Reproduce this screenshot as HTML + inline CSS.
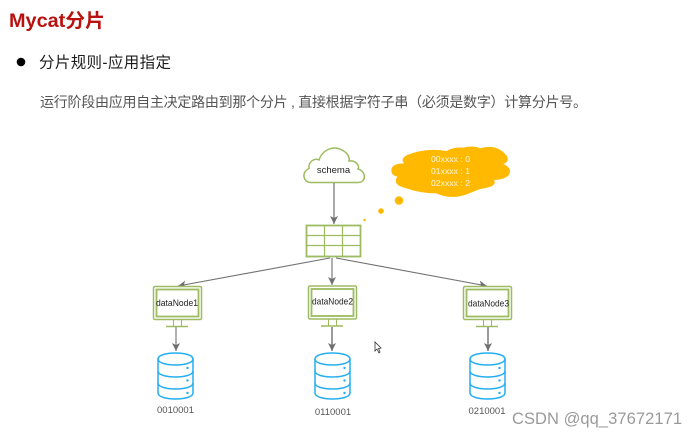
<!DOCTYPE html>
<html lang="zh">
<head>
<meta charset="utf-8">
<title>Mycat分片</title>
<style>
html,body{margin:0;padding:0;background:#fff;width:697px;height:436px;overflow:hidden}
svg{display:block;filter:blur(.35px)}
text{font-family:"Liberation Sans","Noto Sans CJK SC",sans-serif}
</style>
</head>
<body>
<svg width="697" height="436" viewBox="0 0 697 436" xmlns="http://www.w3.org/2000/svg">
<defs>
<marker id="a" markerWidth="9" markerHeight="8" refX="8" refY="4" orient="auto" markerUnits="userSpaceOnUse"><path d="M0 0L8 4L0 8L2 4Z" fill="#707070"/></marker>
<g id="db" fill="#fff" stroke="#26aef0" stroke-width="1.500">
<path d="M0 6C0 -2 35 -2 35 6V40C35 48 0 48 0 40Z"/>
<path d="M0 6C0 14 35 14 35 6M0 18C0 26 35 26 35 18M0 30C0 38 35 38 35 30" fill="none"/>
<circle cx="29.500" cy="15" r="1.200" fill="#26aef0" stroke="none"/>
<circle cx="29.500" cy="27.500" r="1.200" fill="#26aef0" stroke="none"/>
<circle cx="29.500" cy="40" r="1.200" fill="#26aef0" stroke="none"/>
</g>
<g id="mon" fill="none" stroke="#9dbb61">
<rect x="0.500" y="0.500" width="48" height="33" rx="1.500" stroke-width="1.500" fill="#fff"/>
<rect x="3.500" y="3.500" width="42" height="27" stroke-width="1.800" fill="#fff"/>
<path d="M20.500 34V40.500M28.500 34V40.500" stroke-width="1.100"/>
<path d="M13 40.500H35" stroke-width="1.400"/>
</g>
</defs>

<text x="9" y="27" font-size="19" font-weight="700" fill="#b8120f" textLength="96" lengthAdjust="spacingAndGlyphs">Mycat分片</text>
<circle cx="21" cy="62" r="4.300" fill="#000"/>
<text x="39" y="67.500" font-size="15.500" fill="#1c1c1c" textLength="132">分片规则-应用指定</text>
<text x="40" y="107" font-size="14" fill="#555" textLength="547">运行阶段由应用自主决定路由到那个分片 , 直接根据字符子串（必须是数字）计算分片号。</text>

<!-- schema cloud -->
<path d="M311 182.500C303 182.500 301 172 309 168.500C308 161 315 158 319 160C322 150 333 145 342 150C348 153 350 158 349 161C356 160 360 166 358 169C366 171 367 182.500 358 182.500Z" fill="#fff" stroke="#9dbb61" stroke-width="1.500"/>
<text x="333.500" y="173" font-size="9.500" fill="#222" text-anchor="middle">schema</text>
<line x1="334" y1="183" x2="334" y2="224" stroke="#707070" stroke-width="1.200" marker-end="url(#a)"/>

<!-- yellow thought cloud -->
<g fill="#ffb900">
<path transform="translate(290 135) scale(.33333)" d="M305 100Q310 85 342 85Q325 65 375 52Q420 40 470 48Q490 35 520 38Q550 30 570 40Q620 25 650 62Q660 80 640 87Q670 100 655 122Q640 135 612 135Q625 155 570 162Q550 170 530 178Q480 195 440 175Q390 175 350 160Q305 150 322 125Q300 120 305 100Z"/>
<circle cx="399" cy="200.500" r="4.300"/>
<circle cx="381" cy="211" r="2.800"/>
<circle cx="364.500" cy="220" r="1.200"/>
</g>
<g font-size="8.500" fill="#fff" opacity=".9">
<text x="431" y="162" textLength="39">00xxxx : 0</text>
<text x="431" y="174" textLength="39">01xxxx : 1</text>
<text x="431" y="186" textLength="39">02xxxx : 2</text>
</g>

<!-- table -->
<g fill="none" stroke="#9dbb61">
<rect x="306.500" y="225.500" width="54" height="31" stroke-width="1.800" fill="#fff"/>
<path d="M306 235.500H361M306 245.500H361M324.500 225V257M342.500 225V257" stroke-width="1.200"/>
</g>

<!-- connectors -->
<g stroke="#707070" stroke-width="1.100" fill="none">
<line x1="330" y1="258" x2="178" y2="286" marker-end="url(#a)"/>
<line x1="332" y1="258" x2="332" y2="285" marker-end="url(#a)"/>
<line x1="336" y1="258" x2="487" y2="286" marker-end="url(#a)"/>
<line x1="176" y1="327" x2="176" y2="351" marker-end="url(#a)"/>
<line x1="332" y1="327" x2="332" y2="351" stroke-width="1.400" marker-end="url(#a)"/>
<line x1="488" y1="327" x2="488" y2="351" stroke-width="1.400" marker-end="url(#a)"/>
</g>

<!-- monitors -->
<use href="#mon" x="153" y="286"/>
<use href="#mon" x="308" y="285.500"/>
<use href="#mon" x="463" y="286"/>
<g font-size="9.500" fill="#222">
<text x="156" y="306" textLength="42" lengthAdjust="spacingAndGlyphs">dataNode1</text>
<text x="312" y="304.500" textLength="41" lengthAdjust="spacingAndGlyphs">dataNode2</text>
<text x="468" y="306.500" textLength="41" lengthAdjust="spacingAndGlyphs">dataNode3</text>
</g>

<!-- databases -->
<use href="#db" x="158" y="353"/>
<use href="#db" x="315" y="353"/>
<use href="#db" x="470" y="353"/>
<g font-size="9.500" fill="#555" text-anchor="middle">
<text x="175.500" y="413">0010001</text>
<text x="333" y="415">0110001</text>
<text x="487" y="414">0210001</text>
</g>

<!-- cursor -->
<path d="M375 342V351L377 349L379 353L380 352L378.500 348.500L381 348Z" fill="#fff" stroke="#333" stroke-width=".8"/>

<!-- watermark -->
<text x="512" y="424" font-size="16.500" fill="#9a9a9a" textLength="170">CSDN @qq_37672171</text>
</svg>
</body>
</html>
